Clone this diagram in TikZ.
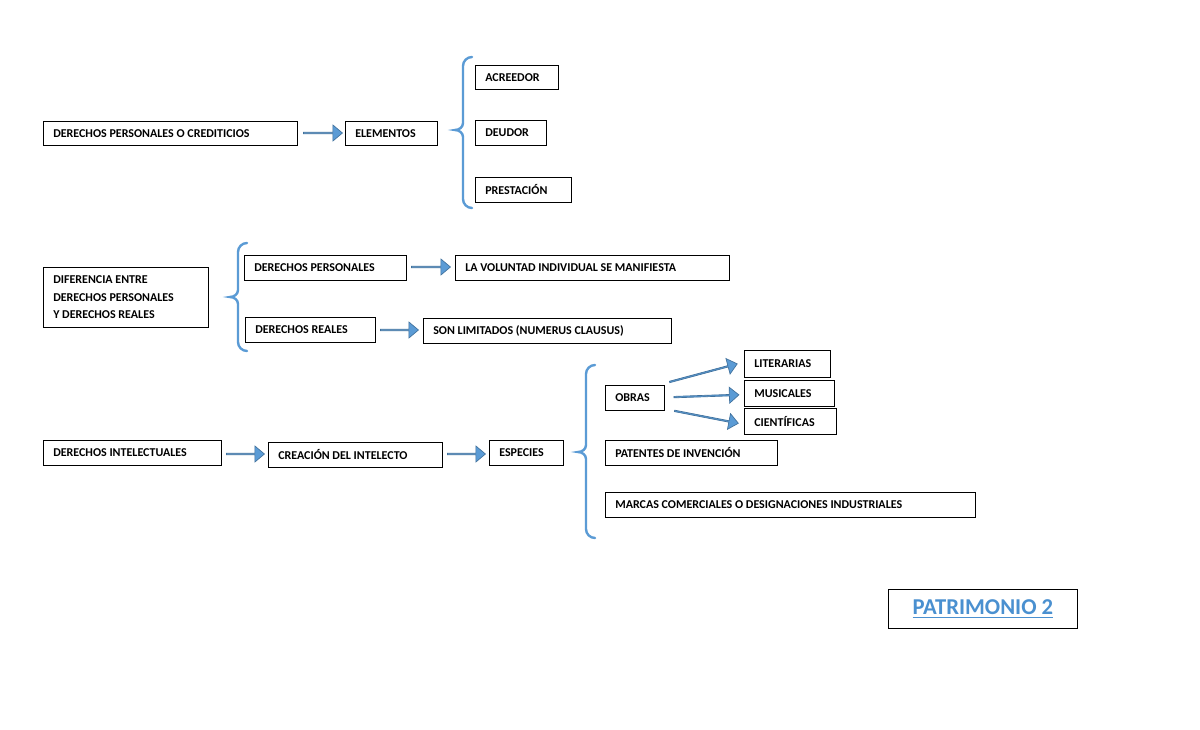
\documentclass[tikz,border=0pt]{standalone}
\usepackage{fontspec}
\setmainfont{Carlito}
\usetikzlibrary{shapes.arrows}
\definecolor{bl}{HTML}{5B9BD5}
\definecolor{bld}{HTML}{41719C}
\definecolor{tb}{HTML}{4A90D0}
\begin{document}
\begin{tikzpicture}[x=0.75pt,y=-0.75pt,
 box/.style={draw,line width=0.6pt,anchor=north west,inner sep=0pt,font=\bfseries\fontsize{9}{11}\selectfont},
 barrow/.style={single arrow,draw=bld,fill=bl,line width=0.5pt,minimum width=12pt,single arrow head extend=2.5pt,inner sep=0pt,single arrow tip angle=80},
 brace/.style={draw=bl,line width=1.8pt,line cap=round}]
\useasboundingbox[fill=white] (0,0) rectangle (1200,729);
\newcommand\bx[6]{\node[box,minimum width=#4*0.75pt,minimum height=#5*0.75pt] (#1) at (#2,#3) {}; \node[anchor=west,font=\bfseries\fontsize{9}{11}\selectfont,inner sep=0pt] at ([xshift=7.5pt]#1.west) {#6};}
\newcommand\brc[4]{\draw[brace] (#1+17,#2) to[out=180,in=90] (#1+8,#2+9) -- (#1+8,#4-7) to[out=-90,in=0] (#1,#4) to[out=0,in=90] (#1+8,#4+7) -- (#1+8,#3-9) to[out=-90,in=180] (#1+17,#3);}
\newcommand\ar[4]{\node[barrow,minimum height=#3*0.75pt,rotate=#4] at (#1,#2) {};}
% row 1
\bx{dp}{43}{121}{254}{24}{DERECHOS PERSONALES O CREDITICIOS}
\bx{el}{345}{121}{92}{24}{ELEMENTOS}
\bx{ac}{475}{65}{83}{24}{ACREEDOR}
\bx{de}{475}{120}{71}{25}{DEUDOR}
\bx{pr}{475}{177}{96}{25}{PRESTACIÓN}
\ar{322.5}{133}{39}{0}
\brc{455}{57}{208}{130}
% row 2
\node[box,minimum width=165*0.75pt,minimum height=60*0.75pt] (dif) at (43,267) {};
\node[anchor=west,align=left,font=\bfseries\fontsize{9}{13}\selectfont,inner sep=0pt] at ([xshift=7.5pt]dif.west) {DIFERENCIA ENTRE\\DERECHOS PERSONALES\\Y DERECHOS REALES};
\bx{dper}{244}{255}{162}{25}{DERECHOS PERSONALES}
\bx{vol}{455}{255}{274}{25}{LA VOLUNTAD INDIVIDUAL SE MANIFIESTA}
\bx{dre}{245}{317}{130}{25}{DERECHOS REALES}
\bx{son}{423}{318}{248}{25}{SON LIMITADOS (NUMERUS CLAUSUS)}
\ar{430.5}{267}{39}{0}
\ar{399}{330}{38}{0}
\brc{230}{243}{351}{297}
% row 3
\bx{di}{43}{440}{178}{25}{DERECHOS INTELECTUALES}
\bx{cr}{268}{442}{174}{25}{CREACIÓN DEL INTELECTO}
\bx{es}{489}{440}{74}{25}{ESPECIES}
\ar{245}{454}{38}{0}
\ar{466}{454}{38}{0}
\brc{578}{365}{538}{452}
\bx{ob}{605}{385}{59}{25}{OBRAS}
\bx{li}{744}{350}{86}{27}{LITERARIAS}
\bx{mu}{744}{380}{90}{26}{MUSICALES}
\bx{ci}{744}{408}{92}{26}{CIENTÍFICAS}
\bx{pa}{605}{440}{172}{25}{PATENTES DE INVENCIÓN}
\bx{ma}{605}{492}{370}{25}{MARCAS COMERCIALES O DESIGNACIONES INDUSTRIALES}
\ar{703}{373}{70}{15}
\ar{706}{396}{65}{2}
\ar{706}{417}{65}{-11}
\node[box,minimum width=189*0.75pt,minimum height=39*0.75pt] (pt) at (888,589) {};
\node[font=\bfseries\fontsize{17}{20}\selectfont,text=tb,inner sep=0pt] at (pt.center) {\underline{PATRIMONIO 2}};
\end{tikzpicture}
\end{document}
